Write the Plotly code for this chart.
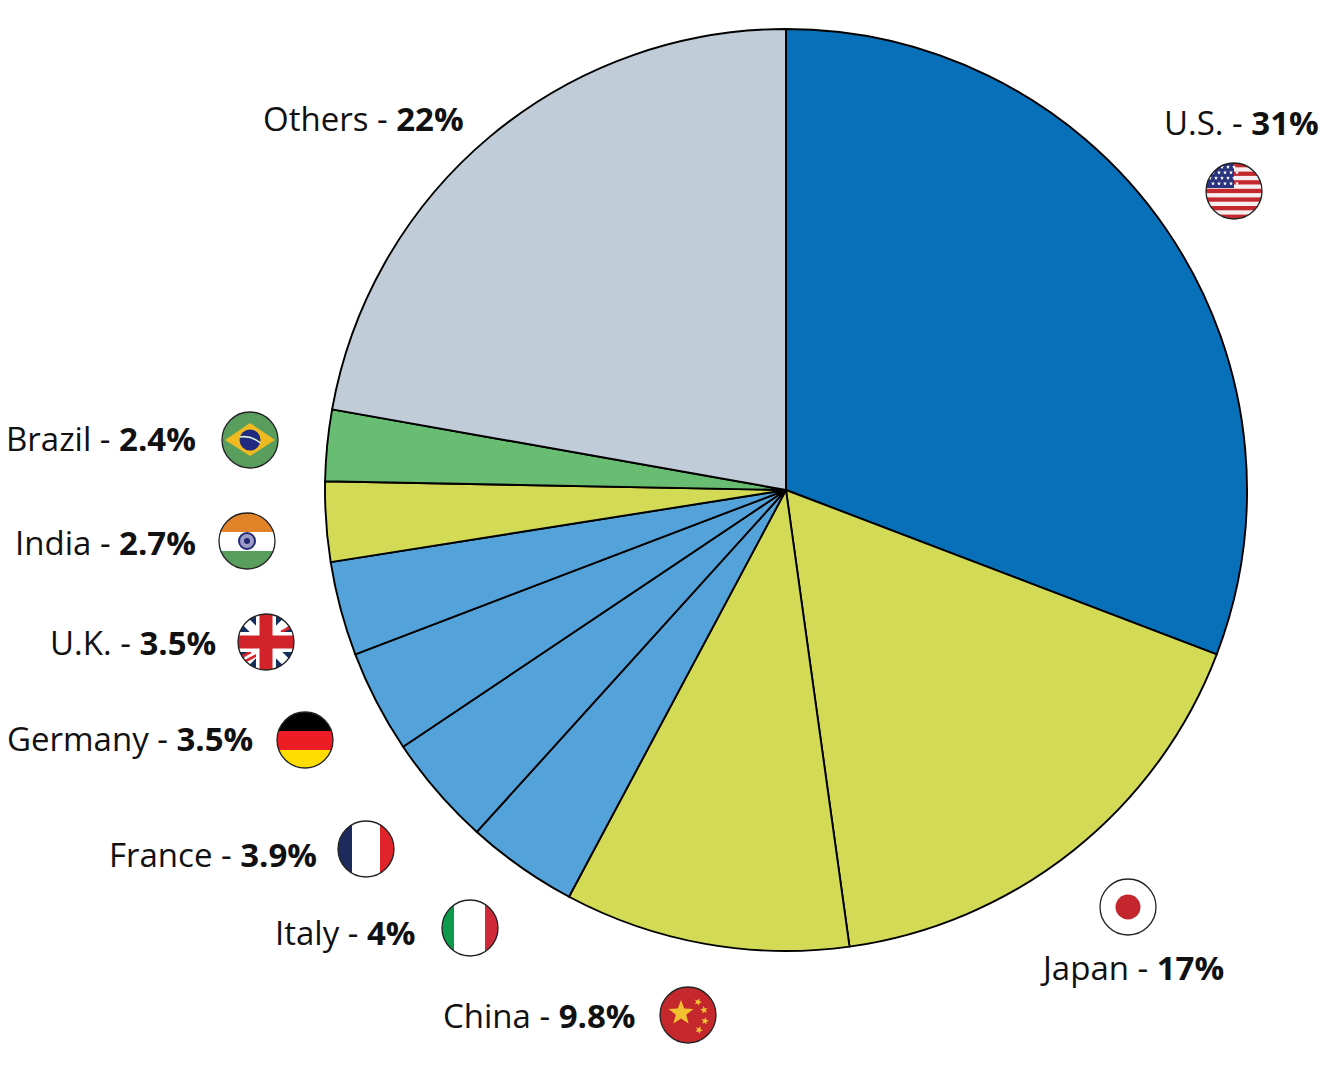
import base64
import math
import plotly.graph_objects as go

W, H = 1332, 1080

countries = ["U.S.", "Japan", "China", "Italy", "France", "Germany", "U.K.", "India", "Brazil", "Others"]
shares = ["31%", "17%", "9.8%", "4%", "3.9%", "3.5%", "3.5%", "2.7%", "2.4%", "22%"]
slice_values = [30.8, 17.0, 10.0, 3.9, 3.9, 3.6, 3.3, 2.8, 2.5, 22.2]
slice_colors = ["#0870b8", "#d3da55", "#d3da55", "#53a3da", "#53a3da", "#53a3da", "#53a3da",
                "#d3da55", "#69bd72", "#c0ccd8"]
label_right = [1321, 1226, 638, 418, 319, 255, 218, 198, 198, 466]
label_mid = [122.5, 967.5, 1015.5, 932.5, 854.5, 738.5, 642.5, 542.5, 438.5, 118]
flag_x = [1234, 1128, 688, 470, 366, 305, 266, 247, 250]
flag_y = [191, 907, 1015, 928, 849, 740, 642, 541, 440]

PIE_L, PIE_R, PIE_T, PIE_B = 325, 1247, 29, 951


def star(cx, cy, r, rot=0):
    pts = []
    for i in range(10):
        a = math.radians(-90 + rot + i * 36)
        rr = r if i % 2 == 0 else r * 0.42
        pts.append(f"{cx + rr * math.cos(a):.2f},{cy + rr * math.sin(a):.2f}")
    return f'<polygon points="{" ".join(pts)}"/>'


def rect(x, y, w, h, c):
    return f'<rect x="{x}" y="{y}" width="{w}" height="{h}" fill="{c}"/>'


def us():
    s = rect(0, 0, 58, 58, "#f6eeee")
    for i in range(7):
        s += rect(0, 1 + i * 8.6, 58, 4.3, "#c4282f")
    s += rect(0, 0, 29, 26, "#29337e")
    s += '<g fill="#fff">'
    for r, y in enumerate([5, 10.5, 16, 21.5]):
        for c in range(5):
            s += star(5 + c * 6 + (3 if r % 2 else 0), y, 2.1)
    return s + "</g>"


def japan():
    return rect(0, 0, 58, 58, "#fff") + '<circle cx="29" cy="29" r="12.5" fill="#c4262e"/>'


def china():
    s = rect(0, 0, 58, 58, "#c4282d") + '<g fill="#f3c231">'
    s += star(22, 27, 13)
    for x, y, rot in [(39, 16, 20), (45, 24, -10), (46, 35, 10), (40, 44, 25)]:
        s += star(x, y, 4, rot)
    return s + "</g>"


def italy():
    return rect(0, 0, 58, 58, "#fff") + rect(0, 0, 13, 58, "#0e9a4d") + rect(44, 0, 14, 58, "#cf2a3a")


def france():
    return rect(0, 0, 58, 58, "#fff") + rect(0, 0, 15, 58, "#1d2a5c") + rect(43, 0, 15, 58, "#e1232a")


def germany():
    return rect(0, 0, 58, 20, "#000") + rect(0, 20, 58, 19, "#ee1c25") + rect(0, 39, 58, 19, "#ffdd00")


def uk():
    s = rect(0, 0, 58, 58, "#14305f")
    s += '<path d="M0 0L58 58M58 0L0 58" stroke="#fff" stroke-width="9"/>'
    s += '<path d="M44 19L58 12M14 39L0 46M5 50L20 42" stroke="#d9252c" stroke-width="2.6"/>'
    s += rect(19, 0, 20, 58, "#fff") + rect(0, 19, 58, 20, "#fff")
    s += rect(22.5, 0, 13, 58, "#d2232a") + rect(0, 22.5, 58, 13, "#d2232a")
    return s


def india():
    s = rect(0, 0, 58, 20, "#e2832a") + rect(0, 20, 58, 19, "#fff") + rect(0, 39, 58, 19, "#5a9e5e")
    s += '<circle cx="29" cy="29" r="8" fill="#9d9dc6" stroke="#232a78" stroke-width="2"/>'
    s += '<circle cx="29" cy="29" r="3" fill="#232a78"/>'
    return s


def brazil():
    s = rect(0, 0, 58, 58, "#5a9e5e")
    s += '<polygon points="4,29 29,12 54,29 29,45" fill="#efb920"/>'
    s += '<circle cx="29" cy="29" r="10.5" fill="#1f2a80"/>'
    s += '<path d="M18.5 26Q30 24 39.5 32" stroke="#dcefd8" stroke-width="1.6" fill="none"/>'
    return s


flag_svgs = [us(), japan(), china(), italy(), france(), germany(), uk(), india(), brazil()]


def flag_uri(body):
    svg = ('<svg xmlns="http://www.w3.org/2000/svg" width="232" height="232" viewBox="0 0 58 58">'
           '<defs><clipPath id="c"><circle cx="29" cy="29" r="28"/></clipPath></defs>'
           f'<g clip-path="url(#c)">{body}</g>'
           '<circle cx="29" cy="29" r="28" fill="none" stroke="#222" stroke-width="1.3"/></svg>')
    return "data:image/svg+xml;base64," + base64.b64encode(svg.encode()).decode()


fig = go.Figure(go.Pie(
    labels=countries,
    values=slice_values,
    sort=False,
    direction="clockwise",
    rotation=0,
    textinfo="none",
    hoverinfo="label",
    marker=dict(colors=slice_colors, line=dict(color="#000", width=1.9)),
    domain=dict(x=[PIE_L / W, PIE_R / W], y=[1 - PIE_B / H, 1 - PIE_T / H]),
    showlegend=False,
))

annotations = [
    dict(text=f"{c} - <b>{s}</b>", x=r / W, y=1 - m / H, xref="paper", yref="paper",
         xanchor="right", yanchor="middle", showarrow=False, align="right",
         font=dict(family="Open Sans", size=33, color="#111"))
    for c, s, r, m in zip(countries, shares, label_right, label_mid)
]

images = [
    dict(source=flag_uri(b), xref="paper", yref="paper", x=x / W, y=1 - y / H,
         sizex=58 / W, sizey=58 / H, xanchor="center", yanchor="middle", layer="above",
         sizing="stretch")
    for b, x, y in zip(flag_svgs, flag_x, flag_y)
]

fig.update_layout(width=W, height=H, margin=dict(l=0, r=0, t=0, b=0), paper_bgcolor="#fff",
                  annotations=annotations, images=images)
fig.write_html("out.html", config={"displayModeBar": False},
               post_script="document.body.style.margin='0';")
